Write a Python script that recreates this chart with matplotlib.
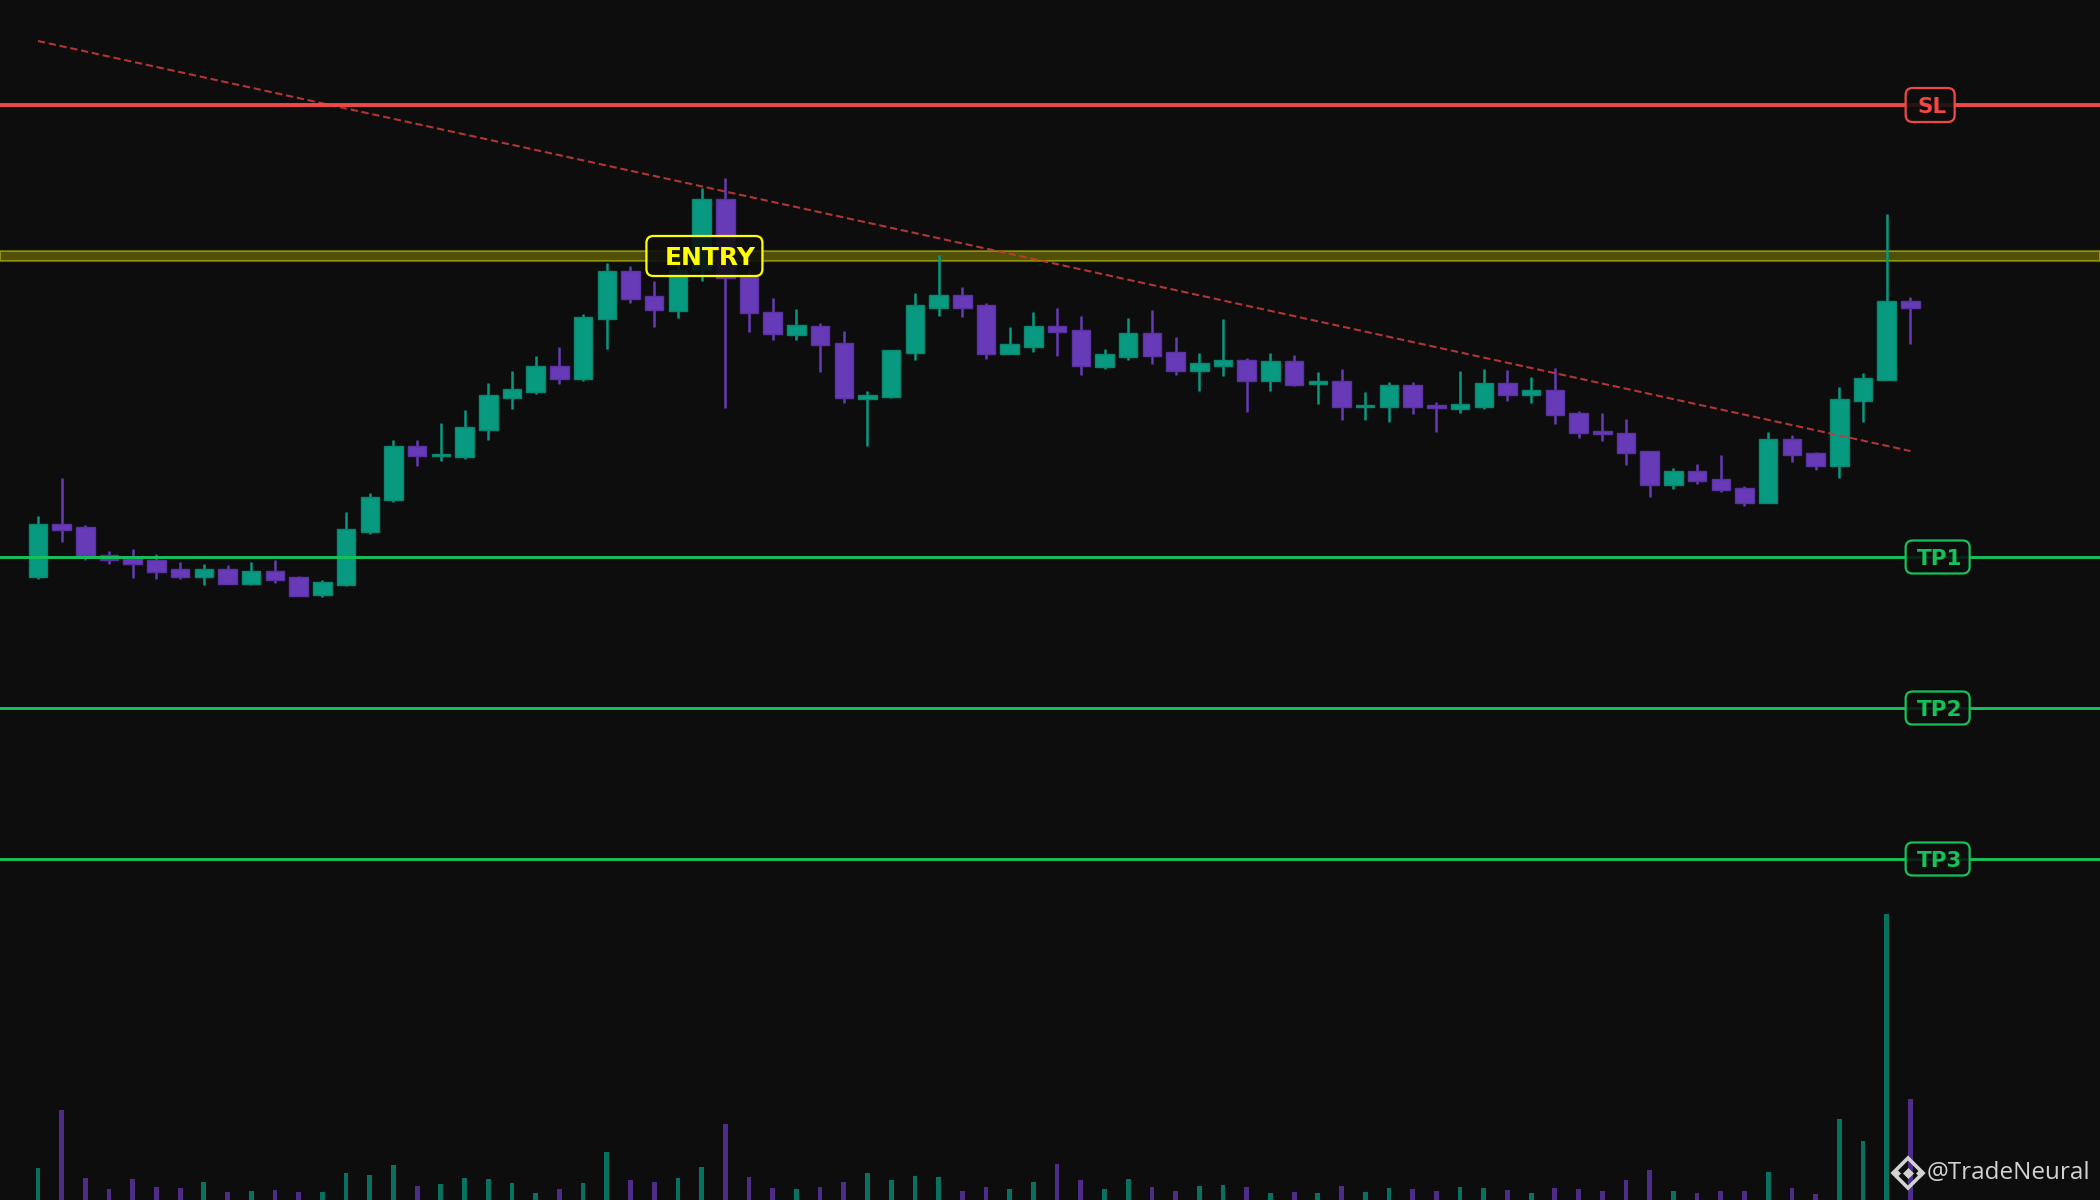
import numpy as np
import matplotlib
matplotlib.use("Agg")
import matplotlib.pyplot as plt
from matplotlib.patches import FancyBboxPatch
from matplotlib.lines import Line2D
from matplotlib.transforms import IdentityTransform
from matplotlib.colors import to_rgba

BG = "#0d0d0d"
UP = "#089981"
UP_EDGE = "#0b8670"
DOWN = "#673ab7"
DOWN_EDGE = "#5a32a3"
SL_RED = "#f04848"
TP_GREEN = "#16c15a"
ENTRY_YEL = "#ffff00"
TREND_RED = "#c53a3a"
MARK = "#d2d2d2"

# OHLC (price) per bar
opens = [0.07233, 0.07757, 0.07727, 0.07450, 0.07417, 0.07397, 0.07310, 0.07233, 0.07310, 0.07163,
         0.07290, 0.07230, 0.07053, 0.07153, 0.07683, 0.08003, 0.08537, 0.08437, 0.08433, 0.08703,
         0.09023, 0.09083, 0.09337, 0.09213, 0.09807, 0.10287, 0.10037, 0.09893, 0.10300, 0.11007,
         0.10250, 0.09883, 0.09647, 0.09737, 0.09567, 0.09007, 0.09033, 0.09473, 0.09923, 0.10047,
         0.09947, 0.09457, 0.09533, 0.09737, 0.09697, 0.09333, 0.09433, 0.09670, 0.09477, 0.09287,
         0.09343, 0.09397, 0.09187, 0.09387, 0.09157, 0.09187, 0.08927, 0.08927, 0.09147, 0.08947,
         0.08907, 0.08927, 0.09167, 0.09047, 0.09097, 0.08867, 0.08687, 0.08667, 0.08487, 0.08147,
         0.08287, 0.08207, 0.08117, 0.07967, 0.08607, 0.08467, 0.08337, 0.08987, 0.09197, 0.09987]
highs = [0.07840, 0.08220, 0.07750, 0.07490, 0.07510, 0.07460, 0.07380, 0.07360, 0.07350, 0.07380,
         0.07400, 0.07240, 0.07200, 0.07880, 0.08070, 0.08600, 0.08600, 0.08770, 0.08900, 0.09170,
         0.09290, 0.09440, 0.09530, 0.09860, 0.10370, 0.10340, 0.10190, 0.10370, 0.11120, 0.11220,
         0.10300, 0.10020, 0.09910, 0.09770, 0.09687, 0.09090, 0.09500, 0.10067, 0.10450, 0.10130,
         0.09967, 0.09730, 0.09877, 0.09920, 0.09840, 0.09507, 0.09820, 0.09900, 0.09630, 0.09470,
         0.09810, 0.09420, 0.09470, 0.09450, 0.09280, 0.09310, 0.09080, 0.09177, 0.09177, 0.08980,
         0.09290, 0.09310, 0.09300, 0.09230, 0.09320, 0.08887, 0.08870, 0.08810, 0.08487, 0.08317,
         0.08360, 0.08450, 0.08137, 0.08680, 0.08650, 0.08480, 0.09130, 0.09270, 0.10860, 0.10030]
lows = [0.07210, 0.07580, 0.07400, 0.07360, 0.07220, 0.07210, 0.07210, 0.07150, 0.07160, 0.07150,
        0.07170, 0.07040, 0.07030, 0.07140, 0.07660, 0.07980, 0.08340, 0.08393, 0.08413, 0.08600,
        0.08910, 0.09063, 0.09163, 0.09193, 0.09513, 0.09973, 0.09730, 0.09823, 0.10193, 0.08923,
        0.09683, 0.09603, 0.09603, 0.09283, 0.08967, 0.08537, 0.09023, 0.09400, 0.09843, 0.09833,
        0.09413, 0.09457, 0.09483, 0.09443, 0.09253, 0.09313, 0.09403, 0.09363, 0.09253, 0.09093,
        0.09243, 0.08880, 0.09093, 0.09143, 0.08963, 0.08803, 0.08803, 0.08783, 0.08863, 0.08683,
        0.08873, 0.08913, 0.08993, 0.08973, 0.08763, 0.08623, 0.08593, 0.08353, 0.08033, 0.08113,
        0.08163, 0.08083, 0.07943, 0.07967, 0.08383, 0.08303, 0.08223, 0.08783, 0.09197, 0.09563]
closes = [0.07757, 0.07703, 0.07440, 0.07397, 0.07363, 0.07283, 0.07233, 0.07310, 0.07163, 0.07290,
          0.07203, 0.07043, 0.07177, 0.07710, 0.08027, 0.08537, 0.08443, 0.08457, 0.08727, 0.09047,
          0.09107, 0.09337, 0.09213, 0.09827, 0.10287, 0.10013, 0.09897, 0.10300, 0.11007, 0.10223,
          0.09867, 0.09657, 0.09747, 0.09547, 0.09017, 0.09053, 0.09497, 0.09947, 0.10047, 0.09917,
          0.09457, 0.09557, 0.09737, 0.09677, 0.09337, 0.09457, 0.09670, 0.09443, 0.09287, 0.09367,
          0.09397, 0.09187, 0.09387, 0.09153, 0.09187, 0.08927, 0.08947, 0.09147, 0.08927, 0.08917,
          0.08957, 0.09167, 0.09047, 0.09097, 0.08847, 0.08667, 0.08657, 0.08467, 0.08147, 0.08287,
          0.08187, 0.08097, 0.07967, 0.08607, 0.08447, 0.08337, 0.09007, 0.09217, 0.09987, 0.09917]
# volume in thousands
volumes = [32, 90, 22, 11, 21, 13, 12, 18, 8, 9, 10, 8, 8, 27, 25, 35, 14, 16, 22, 21,
           17, 7, 11, 17, 48, 20, 18, 22, 33, 76, 23, 12, 11, 13, 18, 27, 20, 24, 23, 9,
           13, 11, 18, 36, 20, 11, 21, 13, 9, 14, 15, 13, 7, 8, 7, 14, 8, 12, 11, 9,
           13, 12, 10, 7, 12, 11, 9, 20, 30, 9, 7, 9, 9, 28, 12, 6, 81, 59, 286, 101]

SL = 0.1195
ENTRY = 0.1044
TP_LEVELS = [0.0743, 0.0592, 0.0441]
TP_NAMES = ["TP1", "TP2", "TP3"]
ENTRY_BAR = 28

# descending trendline drawn through the highs
trend_x = [0, 79]
trend_y = [0.1259, 0.0849]

W, H, DPI = 2100, 1200, 100


def tag(fig, ax, x, y, text, color, w, h, size, anchor="left", shift=2):
    px, py = ax.transData.transform((x, y))
    x0 = px if anchor == "left" else px - w / 2
    box = FancyBboxPatch((x0, py - h / 2), w, h, boxstyle="round,pad=0,rounding_size=7",
                         transform=IdentityTransform(), facecolor=to_rgba(BG, 0.88),
                         edgecolor=color, linewidth=1.6, zorder=5)
    fig.add_artist(box)
    cap = 0.73 * size * DPI / 72
    fig.text(x0 + w / 2 + shift, py - cap / 2, text, transform=IdentityTransform(),
             ha="center", va="baseline", fontsize=size, fontweight="bold",
             color=color, family="DejaVu Sans", zorder=6)


def main():
    n = len(closes)
    x = np.arange(n)
    o = np.array(opens)
    c = np.array(closes)
    up = c >= o

    fig = plt.figure(figsize=(W / DPI, H / DPI), dpi=DPI, facecolor=BG)

    # volume overlay sits underneath the price axes
    vax = fig.add_axes([0, 0, 1, 1])
    vax.set_facecolor(BG)
    vax.bar(x, volumes, width=0.2, color=[UP if u else DOWN for u in up], alpha=0.72, linewidth=0)
    vax.set_xlim(-1.6, 87.0)
    vax.set_ylim(0, max(volumes) / 0.238)
    vax.axis("off")

    ax = fig.add_axes([0, 0, 1, 1])
    ax.set_facecolor("none")
    ax.set_xlim(-1.6, 87.0)
    ax.set_ylim(0.01, 0.13)
    ax.axis("off")

    # entry band
    half = (0.13 - 0.01) / H * 4.8
    ax.axhspan(ENTRY - half, ENTRY + half, facecolor=to_rgba(ENTRY_YEL, 0.28),
               edgecolor=to_rgba(ENTRY_YEL, 0.38), linewidth=1.5, zorder=1)

    # candles
    ax.vlines(x, lows, highs, colors=[UP if u else DOWN for u in up], linewidth=1.8, zorder=2)
    ax.bar(x, np.abs(c - o), bottom=np.minimum(o, c), width=0.78,
           color=[UP if u else DOWN for u in up],
           edgecolor=[UP_EDGE if u else DOWN_EDGE for u in up], linewidth=1.0, zorder=3)

    ax.plot(trend_x, trend_y, color=TREND_RED, linewidth=1.5, linestyle=(0, (3.5, 1.8)),
            alpha=0.9, zorder=4)

    ax.axhline(SL, color=SL_RED, linewidth=2.8, zorder=4)
    for lvl in TP_LEVELS:
        ax.axhline(lvl, color=TP_GREEN, linewidth=2.1, zorder=4)

    label_x = n - 1.2
    tag(fig, ax, label_x, SL, "SL", SL_RED, 49, 34, 15.5)
    for lvl, name in zip(TP_LEVELS, TP_NAMES):
        tag(fig, ax, label_x, lvl, name, TP_GREEN, 64, 33, 15.5)
    tag(fig, ax, ENTRY_BAR + 0.12, ENTRY, "ENTRY", ENTRY_YEL, 116, 40, 18,
        anchor="center", shift=6)

    # watermark
    cx, cy = 1908, 27
    for dx, ms, filled in [(0, 15, False), (0, 5, True), (-12, 4.5, True), (12, 4.5, True)]:
        fig.add_artist(Line2D([cx + dx], [cy], marker="D", markersize=ms,
                              markerfacecolor=MARK if filled else "none",
                              markeredgecolor=MARK, markeredgewidth=2.6 if not filled else 0.5,
                              transform=IdentityTransform(), zorder=7))
    fig.text(1927, cy, "@TradeNeural", transform=IdentityTransform(), ha="left",
             va="center", fontsize=17.5, color=MARK, family="Open Sans", zorder=7)

    fig.savefig("out.png", dpi=DPI, facecolor=BG)
    plt.close(fig)


if __name__ == "__main__":
    main()
